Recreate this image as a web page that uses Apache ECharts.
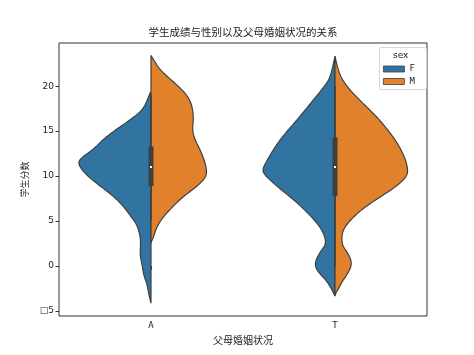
<!DOCTYPE html>
<html>
<head>
<meta charset="utf-8">
<script src="https://cdn.jsdelivr.net/npm/echarts@6/dist/echarts.min.js"></script>
<style>html,body{margin:0;padding:0;background:#fff}#chart{width:474px;height:355px}</style>
</head>
<body>
<div id="chart"></div>
<script>
// ---- data ----
const categories = ['A', 'T'];
const sexes = ['F', 'M'];
const yTicks = [-5, 0, 5, 10, 15, 20];

// violin half outlines: scores (y) and relative density (1 = widest half)
const aF_scores  = [19.3, 18.4, 17.3, 16.2, 15.1, 14.0, 13.0, 12.2, 11.6, 10.9, 10.0, 9.0, 7.9, 6.8, 5.7, 4.6, 3.4, 2.7, 1.2, 0.1, -1.0, -2.1, -3.2, -4.1];
const aF_density = [0.01, 0.05, 0.12, 0.29, 0.49, 0.66, 0.78, 0.92, 0.99, 0.96, 0.86, 0.71, 0.53, 0.39, 0.29, 0.19, 0.15, 0.14, 0.15, 0.12, 0.10, 0.05, 0.03, 0.0];

const aM_scores  = [23.4, 22.9, 21.8, 20.3, 19.2, 18.1, 16.6, 15.1, 14.0, 12.9, 11.4, 10.3, 9.6, 8.7, 7.6, 6.4, 5.3, 4.2, 3.1, 2.6];
const aM_density = [0.0, 0.04, 0.12, 0.33, 0.47, 0.55, 0.58, 0.56, 0.60, 0.67, 0.74, 0.76, 0.72, 0.60, 0.42, 0.27, 0.15, 0.07, 0.03, 0.0];

const tF_scores  = [23.3, 21.8, 20.7, 19.6, 18.4, 17.3, 16.2, 15.1, 14.0, 12.9, 11.8, 10.7, 10.1, 9.4, 8.6, 7.5, 6.4, 5.3, 4.2, 3.1, 2.3, 1.6, 0.5, -0.3, -1.0, -1.7, -2.5, -3.2, -3.3];
const tF_density = [0.0, 0.04, 0.08, 0.18, 0.30, 0.41, 0.52, 0.64, 0.75, 0.84, 0.92, 0.99, 0.95, 0.86, 0.75, 0.58, 0.43, 0.30, 0.19, 0.13, 0.13, 0.20, 0.27, 0.26, 0.19, 0.11, 0.05, 0.01, 0.0];

const tM_scores  = [23.3, 21.8, 20.7, 19.6, 18.4, 17.3, 16.2, 15.1, 14.0, 12.9, 11.8, 10.7, 10.1, 9.4, 8.6, 7.5, 6.4, 5.3, 4.2, 3.3, 2.3, 1.6, 0.7, -0.1, -1.0, -1.7, -2.5, -3.0, -3.3];
const tM_density = [0.0, 0.04, 0.10, 0.20, 0.34, 0.48, 0.61, 0.72, 0.82, 0.90, 0.96, 0.99, 0.98, 0.91, 0.79, 0.58, 0.38, 0.23, 0.12, 0.09, 0.10, 0.16, 0.22, 0.22, 0.16, 0.10, 0.05, 0.01, 0.0];

// inner box plot per category
const boxQ1 = [8.9, 7.8];
const boxMedian = [11.0, 11.0];
const boxQ3 = [13.3, 14.3];
const whiskerLow = [5, 0];
const whiskerHigh = [19, 20];

// ---- rendering ----
const colorF = '#3274a1';
const colorM = '#e1812c';
const edge = '#3f3f3f';
const outlines = {
  F: [[aF_scores, aF_density], [tF_scores, tF_density]],
  M: [[aM_scores, aM_density], [tM_scores, tM_density]]
};

function smoothPoints(pts) {
  // quadratic curves through midpoints (drawing a smooth outline)
  const out = [pts[0]];
  const n = pts.length;
  let start = pts[0];
  for (let i = 1; i < n - 1; i++) {
    const c = pts[i];
    const end = (i === n - 2) ? pts[n - 1] : [(pts[i][0] + pts[i + 1][0]) / 2, (pts[i][1] + pts[i + 1][1]) / 2];
    for (let k = 1; k <= 6; k++) {
      const t = k / 6, u = 1 - t;
      out.push([u * u * start[0] + 2 * u * t * c[0] + t * t * end[0],
                u * u * start[1] + 2 * u * t * c[1] + t * t * end[1]]);
    }
    start = end;
  }
  if (n === 2) out.push(pts[1]);
  return out;
}

function violinRenderer(sex, sign, color) {
  return function (params, api) {
    const ci = api.value(0);
    const [scores, dens] = outlines[sex][ci];
    const half = api.size([1, 0])[0] * 0.4;
    const cx = api.coord([ci, 0])[0];
    const raw = scores.map((s, i) => [cx + sign * dens[i] * half, api.coord([ci, s])[1]]);
    const pts = smoothPoints(raw);
    pts.push([cx, raw[raw.length - 1][1]]);
    pts.push([cx, raw[0][1]]);
    return {
      type: 'polygon',
      shape: { points: pts },
      style: { fill: color, stroke: edge, lineWidth: 1.2, lineJoin: 'round' }
    };
  };
}

function boxRenderer(params, api) {
  const ci = api.value(0);
  const cx = api.coord([ci, 0])[0];
  const yLo = api.coord([ci, api.value(1)])[1];
  const yQ1 = api.coord([ci, api.value(2)])[1];
  const yMed = api.coord([ci, api.value(3)])[1];
  const yQ3 = api.coord([ci, api.value(4)])[1];
  const yHi = api.coord([ci, api.value(5)])[1];
  const bw = 5;
  return {
    type: 'group',
    children: [
      { type: 'line', shape: { x1: cx, y1: yLo, x2: cx, y2: yHi }, style: { stroke: edge, lineWidth: 1.5 } },
      { type: 'rect', shape: { x: cx - bw / 2, y: yQ3, width: bw, height: yQ1 - yQ3 }, style: { fill: edge } },
      { type: 'rect', shape: { x: cx - 1, y: yMed - 1, width: 2, height: 2 }, style: { fill: '#ffffff' } }
    ]
  };
}

const chart = echarts.init(document.getElementById('chart'), null, { renderer: 'canvas' });
const cjk = "'Noto Sans CJK SC', sans-serif";
const latin = "'DejaVu Sans', sans-serif";

chart.setOption({
  animation: false,
  backgroundColor: '#ffffff',
  title: {
    text: '学生成绩与性别以及父母婚姻状况的关系',
    left: 243, top: 27, textAlign: 'center', padding: 0,
    textStyle: { fontFamily: cjk, fontSize: 10.5, fontWeight: 'normal', color: '#222' }
  },
  grid: { left: 59, right: 47, top: 43, bottom: 39, show: true, borderColor: '#333', borderWidth: 1, backgroundColor: 'transparent' },
  legend: {
    data: sexes, orient: 'vertical', left: 383, top: 64, padding: 0,
    itemWidth: 21, itemHeight: 6, itemGap: 2.5, icon: 'rect',
    itemStyle: { borderColor: edge, borderWidth: 0.8 },
    textStyle: { fontFamily: "'DejaVu Sans Mono', monospace", fontSize: 9, lineHeight: 10, color: '#222' },
    selectedMode: false
  },
  graphic: [
    { type: 'rect', left: 379, top: 47, z: 0, shape: { width: 47, height: 42, r: 2 }, style: { fill: 'rgba(255,255,255,0.8)', stroke: '#d6d6d6', lineWidth: 1 } },
    { type: 'text', left: 393, top: 51, z: 1, style: { text: 'sex', fontFamily: latin, fontSize: 9, fill: '#222' } }
  ],
  xAxis: {
    type: 'category', data: categories,
    name: '父母婚姻状况', nameLocation: 'middle', nameGap: 19,
    nameTextStyle: { fontFamily: cjk, fontSize: 10, color: '#222' },
    axisLine: { show: false },
    axisTick: { show: true, alignWithLabel: true, length: 3.5, lineStyle: { color: '#333' } },
    axisLabel: { fontFamily: "'DejaVu Sans Mono', monospace", fontSize: 9, color: '#222', margin: 5 },
    splitLine: { show: false }
  },
  yAxis: {
    type: 'value', min: -5.56, max: 24.8,
    name: '学生分数', nameLocation: 'middle', nameGap: 27, nameRotate: 90,
    nameTextStyle: { fontFamily: cjk, fontSize: 9, color: '#222' },
    axisLine: { show: false },
    axisTick: { show: true, length: 3.5, customValues: yTicks, lineStyle: { color: '#333' } },
    axisLabel: {
      customValues: yTicks, fontFamily: latin, fontSize: 9, color: '#222', margin: 5,
      formatter: v => (v < 0 ? '\u25A1' + Math.abs(v) : String(v))
    },
    splitLine: { show: false }
  },
  series: [
    { name: 'F', type: 'custom', itemStyle: { color: colorF }, encode: { x: 0, y: 1 },
      data: categories.map((c, i) => [i, 0]), renderItem: violinRenderer('F', -1, colorF), z: 2 },
    { name: 'M', type: 'custom', itemStyle: { color: colorM }, encode: { x: 0, y: 1 },
      data: categories.map((c, i) => [i, 0]), renderItem: violinRenderer('M', 1, colorM), z: 2 },
    { name: 'box', type: 'custom', encode: { x: 0, y: [1, 2, 3, 4, 5] },
      data: categories.map((c, i) => [i, whiskerLow[i], boxQ1[i], boxMedian[i], boxQ3[i], whiskerHigh[i]]),
      renderItem: boxRenderer, z: 3 }
  ]
});
</script>
</body>
</html>
